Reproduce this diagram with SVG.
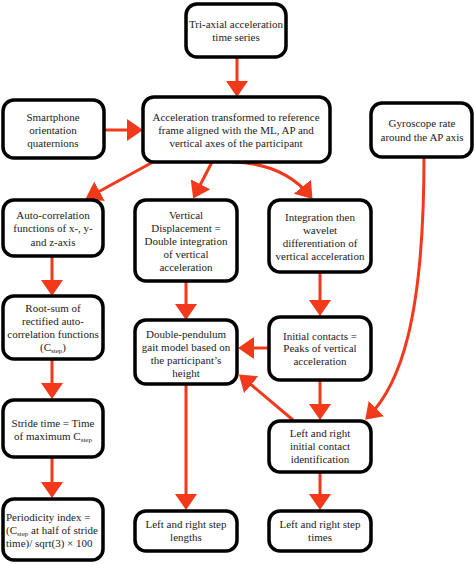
<svg xmlns="http://www.w3.org/2000/svg" width="474" height="564" viewBox="0 0 474 564" font-family="'Liberation Serif', 'DejaVu Serif', serif">
<style>
.box{fill:#fff;stroke:#000;stroke-width:3.5}
.t{font-family:'Liberation Serif','DejaVu Serif',serif;font-size:11px;fill:#222;text-anchor:middle}
.tl{text-anchor:start}
.sub{font-size:7px}
.c{fill:none;stroke:#f2391c;stroke-width:3}
</style>
<defs>
<marker id="ah" viewBox="0 0 16 22" refX="12" refY="11" markerWidth="16" markerHeight="22" markerUnits="userSpaceOnUse" orient="auto">
<path d="M0,0 L16,11 L0,22 Z" fill="#f2391c"/>
</marker>
</defs>
<rect width="474" height="564" fill="#fff"/>
<g id="connectors">
<path class="c" marker-end="url(#ah)" d="M237,57 L237,93"/>
<path class="c" marker-end="url(#ah)" d="M104,130 L139,130"/>
<path class="c" marker-end="url(#ah)" d="M153,162 L89,197"/>
<path class="c" marker-end="url(#ah)" d="M212,162 L195,195"/>
<path class="c" marker-end="url(#ah)" d="M232,162 Q283,163 310,196"/>
<path class="c" marker-end="url(#ah)" d="M424,157 C424,320 400,385 368,417"/>
<path class="c" marker-end="url(#ah)" d="M52,256 L52,292"/>
<path class="c" marker-end="url(#ah)" d="M186,282 L186,316"/>
<path class="c" marker-end="url(#ah)" d="M320,272 L320,312"/>
<path class="c" marker-end="url(#ah)" d="M269,348 L242,348"/>
<path class="c" marker-end="url(#ah)" d="M293,420 L242,377"/>
<path class="c" marker-end="url(#ah)" d="M52,359 L52,395"/>
<path class="c" marker-end="url(#ah)" d="M320,380 L320,416"/>
<path class="c" marker-end="url(#ah)" d="M52,457 L52,494"/>
<path class="c" marker-end="url(#ah)" d="M186,384 L186,506"/>
<path class="c" marker-end="url(#ah)" d="M320,472 L320,506"/>
</g>
<g id="n-triaxial"><rect class="box" x="186" y="4" width="100" height="53" rx="11"/>
<text class="t" x="236" y="28">Tri-axial acceleration</text><text class="t" x="236" y="41">time series</text></g>
<g id="n-smartphone"><rect class="box" x="3" y="100" width="101" height="58" rx="11"/>
<text class="t" x="53" y="121">Smartphone</text><text class="t" x="53" y="134">orientation</text><text class="t" x="53" y="147">quaternions</text></g>
<g id="n-accel"><rect class="box" x="143" y="97" width="187" height="65" rx="11"/>
<text class="t" x="236" y="121">Acceleration transformed to reference</text><text class="t" x="236" y="134">frame aligned with the ML, AP and</text><text class="t" x="236" y="147">vertical axes of the participant</text></g>
<g id="n-gyro"><rect class="box" x="371" y="103" width="101" height="54" rx="11"/>
<text class="t" x="422" y="127">Gyroscope rate</text><text class="t" x="422" y="141">around the AP axis</text></g>
<g id="n-autocorr"><rect class="box" x="3" y="200" width="100" height="56" rx="11"/>
<text class="t" x="53" y="219">Auto-correlation</text><text class="t" x="53" y="232">functions of x-, y-</text><text class="t" x="53" y="246">and z-axis</text></g>
<g id="n-vdisp"><rect class="box" x="135" y="200" width="102" height="81" rx="11"/>
<text class="t" x="186" y="219">Vertical</text><text class="t" x="186" y="232">Displacement =</text><text class="t" x="186" y="245">Double integration</text><text class="t" x="186" y="258">of vertical</text><text class="t" x="186" y="271">acceleration</text></g>
<g id="n-integ"><rect class="box" x="269" y="200" width="102" height="72" rx="11"/>
<text class="t" x="320" y="221">Integration then</text><text class="t" x="320" y="234">wavelet</text><text class="t" x="320" y="247">differentiation of</text><text class="t" x="320" y="260">vertical acceleration</text></g>
<g id="n-rootsum"><rect class="box" x="3" y="296" width="100" height="63" rx="11"/>
<text class="t" x="53" y="312">Root-sum of</text><text class="t" x="53" y="325">rectified auto-</text><text class="t" x="53" y="338">correlation functions</text><text class="t" x="53" y="351">(C<tspan class="sub" dy="1.5">step</tspan><tspan dy="-1.5">)</tspan></text></g>
<g id="n-pendulum"><rect class="box" x="135" y="320" width="102" height="64" rx="11"/>
<text class="t" x="186" y="338">Double-pendulum</text><text class="t" x="186" y="351">gait model based on</text><text class="t" x="186" y="364">the participant’s</text><text class="t" x="186" y="377">height</text></g>
<g id="n-initial"><rect class="box" x="269" y="317" width="102" height="63" rx="11"/>
<text class="t" x="320" y="340">Initial contacts =</text><text class="t" x="320" y="352">Peaks of vertical</text><text class="t" x="320" y="365">acceleration</text></g>
<g id="n-stride"><rect class="box" x="3" y="400" width="100" height="57" rx="11"/>
<text class="t" x="53" y="427">Stride time = Time</text><text class="t" x="53" y="440">of maximum C<tspan class="sub" dy="1.5">step</tspan></text></g>
<g id="n-lrinit"><rect class="box" x="269" y="421" width="102" height="51" rx="11"/>
<text class="t" x="320" y="437">Left and right</text><text class="t" x="320" y="450">initial contact</text><text class="t" x="320" y="463">identification</text></g>
<g id="n-period"><rect class="box" x="3" y="499" width="100" height="61" rx="11"/>
<text class="t tl" x="6" y="521">Periodicity index =</text><text class="t tl" x="6" y="534">(C<tspan class="sub" dy="1.5">step</tspan><tspan dy="-1.5"> at half of stride</tspan></text><text class="t tl" x="6" y="547">time)/ sqrt(3) × 100</text></g>
<g id="n-lengths"><rect class="box" x="135" y="511" width="102" height="40" rx="11"/>
<text class="t" x="186" y="528">Left and right step</text><text class="t" x="186" y="541">lengths</text></g>
<g id="n-times"><rect class="box" x="269" y="511" width="102" height="40" rx="11"/>
<text class="t" x="320" y="528">Left and right step</text><text class="t" x="320" y="541">times</text></g>
</svg>
